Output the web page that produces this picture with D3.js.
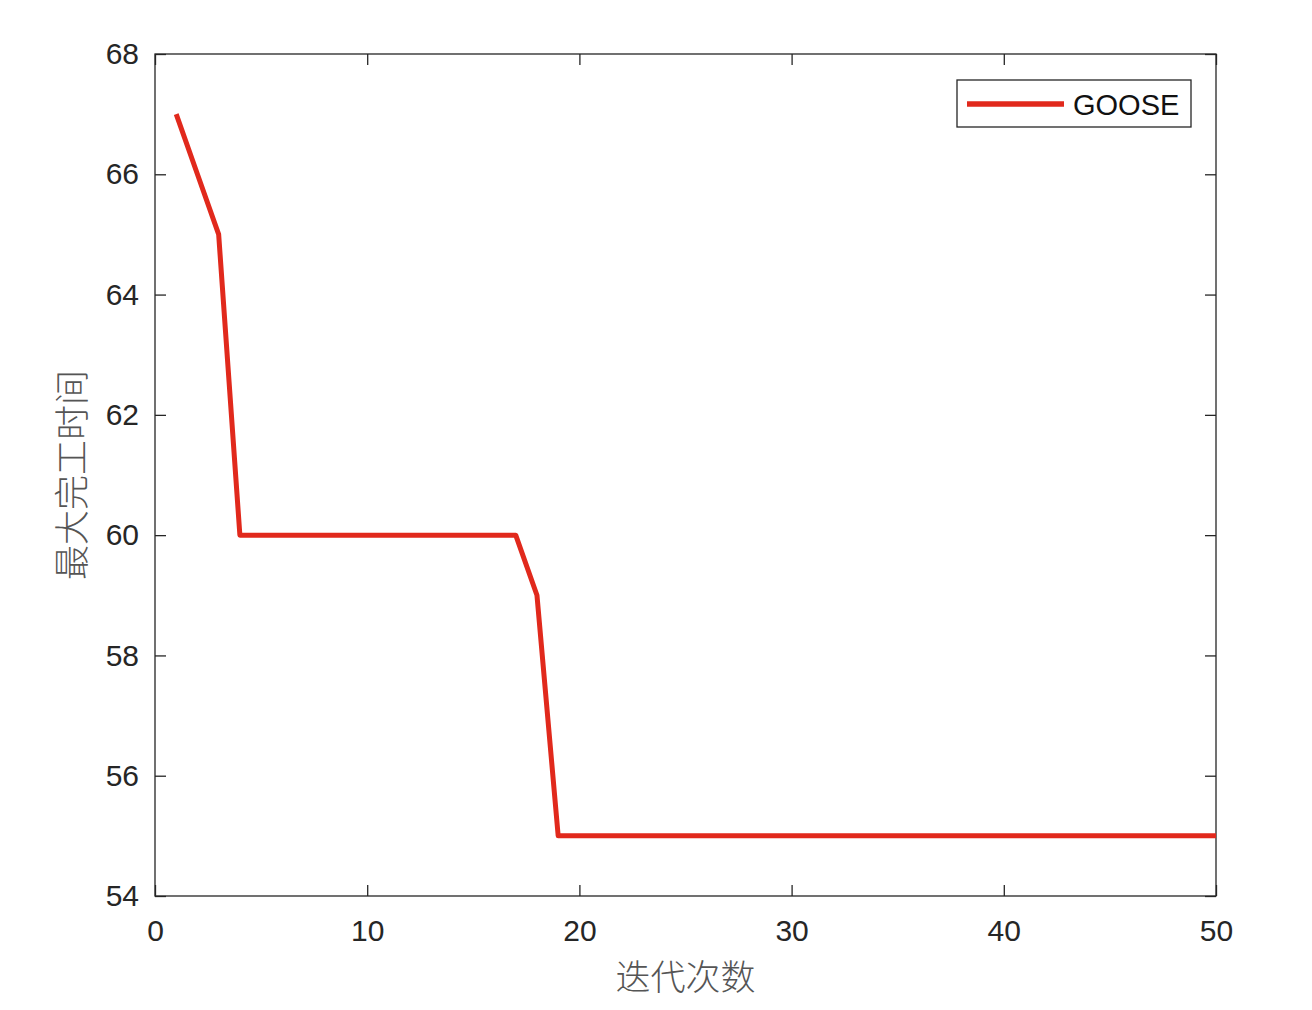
<!DOCTYPE html>
<html>
<head>
<meta charset="utf-8">
<script src="https://cdn.jsdelivr.net/npm/d3@7"></script>
<style>
  body { margin: 0; background: #fff; }
  svg { display: block; }
</style>
</head>
<body>
<svg id="chart"></svg>
<script>
// Data
const iterations = [1, 2, 3, 4, 5, 6, 7, 8, 9, 10,
    11, 12, 13, 14, 15, 16, 17, 18, 19, 20,
    21, 22, 23, 24, 25, 26, 27, 28, 29, 30,
    31, 32, 33, 34, 35, 36, 37, 38, 39, 40,
    41, 42, 43, 44, 45, 46, 47, 48, 49, 50];
const makespan = [67, 66, 65, 60, 60, 60, 60, 60, 60, 60,
    60, 60, 60, 60, 60, 60, 60, 59, 55, 55,
    55, 55, 55, 55, 55, 55, 55, 55, 55, 55,
    55, 55, 55, 55, 55, 55, 55, 55, 55, 55,
    55, 55, 55, 55, 55, 55, 55, 55, 55, 55];
const xTicks = [0, 10, 20, 30, 40, 50];
const yTicks = [54, 56, 58, 60, 62, 64, 66, 68];
const seriesName = 'GOOSE';
const xLabel = '迭代次数';
const yLabel = '最大完工时间';

const width = 1312, height = 1010;
const margin = { left: 155, right: 96, top: 54, bottom: 114 };
const plotW = width - margin.left - margin.right;
const plotH = height - margin.top - margin.bottom;

const svg = d3.select('#chart').attr('width', width).attr('height', height);

const x = d3.scaleLinear().domain([0, 50]).range([0, plotW]);
const y = d3.scaleLinear().domain([54, 68]).range([plotH, 0]);

const g = svg.append('g').attr('transform', `translate(${margin.left},${margin.top})`);

const tickFont = '"Liberation Sans", Arial, Helvetica, sans-serif';
const axisColor = '#262626';

function styleAxis(sel, showLabels) {
    sel.select('.domain').remove();
    sel.selectAll('.tick line').attr('stroke', axisColor).attr('stroke-width', 1.3);
    sel.selectAll('.tick text')
        .attr('fill', axisColor)
        .style('font-family', tickFont)
        .style('font-size', '30px');
    if (!showLabels) sel.selectAll('.tick text').remove();
}

// Inward ticks on all four sides
g.append('g').attr('transform', `translate(0,${plotH})`)
    .call(d3.axisBottom(x).tickValues(xTicks).tickSize(-11).tickPadding(24))
    .call(s => styleAxis(s, true));
g.append('g')
    .call(d3.axisTop(x).tickValues(xTicks).tickSize(-11))
    .call(s => styleAxis(s, false));
g.append('g')
    .call(d3.axisLeft(y).tickValues(yTicks).tickSize(-11).tickPadding(16))
    .call(s => styleAxis(s, true));
g.append('g').attr('transform', `translate(${plotW},0)`)
    .call(d3.axisRight(y).tickValues(yTicks).tickSize(-11))
    .call(s => styleAxis(s, false));

// Box
g.append('rect')
    .attr('width', plotW).attr('height', plotH)
    .attr('fill', 'none').attr('stroke', axisColor).attr('stroke-width', 1.3);

// Series line
const lineColor = '#e1291c';
const line = d3.line().x(d => x(d[0])).y(d => y(d[1]));
g.append('path')
    .datum(iterations.map((it, i) => [it, makespan[i]]))
    .attr('d', line)
    .attr('fill', 'none')
    .attr('stroke', lineColor)
    .attr('stroke-width', 5)
    .attr('stroke-linejoin', 'round');

// Legend
const legend = g.append('g').attr('transform', `translate(${plotW - 259},${26})`);
legend.append('rect')
    .attr('width', 234).attr('height', 47)
    .attr('fill', '#fff').attr('stroke', axisColor).attr('stroke-width', 1.3);
legend.append('line')
    .attr('x1', 10).attr('x2', 107).attr('y1', 24).attr('y2', 24)
    .attr('stroke', lineColor).attr('stroke-width', 5.5);
legend.append('text')
    .attr('x', 116).attr('y', 35)
    .attr('fill', '#111')
    .style('font-family', tickFont)
    .style('font-size', '29px')
    .text(seriesName);

// Axis labels
const cjkFont = '"Noto Sans CJK SC", sans-serif';
svg.append('text')
    .attr('x', margin.left + plotW / 2).attr('y', 990)
    .attr('text-anchor', 'middle')
    .attr('fill', '#555')
    .style('font-family', cjkFont)
    .style('font-weight', 300)
    .style('font-size', '35px')
    .text(xLabel);
svg.append('text')
    .attr('transform', `translate(85,${margin.top + plotH / 2}) rotate(-90)`)
    .attr('text-anchor', 'middle')
    .attr('fill', '#555')
    .style('font-family', cjkFont)
    .style('font-weight', 300)
    .style('font-size', '35px')
    .text(yLabel);
</script>
</body>
</html>
